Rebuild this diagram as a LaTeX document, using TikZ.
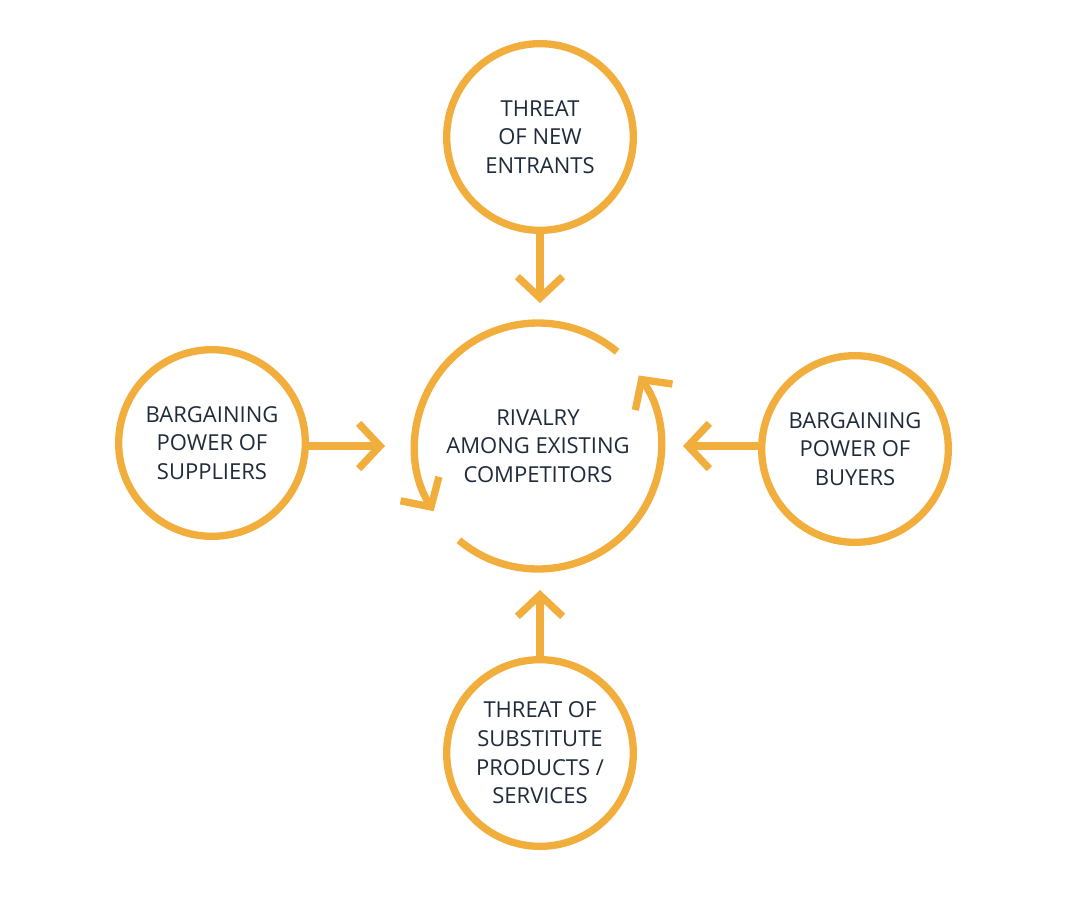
\documentclass[tikz,border=0pt]{standalone}
\usepackage{fontspec}
\setmainfont{Open Sans}
\usetikzlibrary{arrows.meta}
\definecolor{porterorange}{HTML}{F2AE3D}
\definecolor{porterink}{HTML}{1F2A3A}
\begin{document}
\begin{tikzpicture}[x=0.75pt,y=0.75pt,line width=5.5pt,color=porterorange,
      every node/.append style={font=\fontsize{16.5}{21.5}\selectfont,text=porterink,align=center},
      force/.style={circle,draw,minimum size=140pt,inner sep=0pt},
      push/.style={-{Straight Barb[length=16pt,width=34pt]}}]
    \useasboundingbox (0,0) rectangle (1080,-900);
    \node (entrants) [force] at (540,-137) {THREAT\\OF NEW\\ENTRANTS};
    \node (suppliers) [force] at (212,-443) {BARGAINING\\POWER OF\\SUPPLIERS};
    \node (buyers) [force] at (855,-449) {BARGAINING\\POWER OF\\BUYERS};
    \node (substitutes) [force] at (540,-753) {THREAT OF\\SUBSTITUTE\\PRODUCTS /\\SERVICES};
    \node (rivalry) at (538,-446) {RIVALRY\\AMONG EXISTING\\COMPETITORS};
    % arrow tips
    \coordinate (tipT) at (540,-303);
    \coordinate (tipL) at (385,-446);
    \coordinate (tipR) at (683,-446);
    \coordinate (tipB) at (540,-590);
    \draw[push] (entrants.south) -- (tipT);
    \draw[push] (suppliers.east |- tipL) -- (tipL);
    \draw[push] (buyers.west |- tipR) -- (tipR);
    \draw[push] (substitutes.north) -- (tipB);
    % circular rivalry
    \draw[push] (rivalry.center) ++(50:123) arc[start angle=50,end angle=212,radius=123];
    \draw[push] (rivalry.center) ++(230:123) arc[start angle=230,end angle=395,radius=123];
\end{tikzpicture}
\end{document}
